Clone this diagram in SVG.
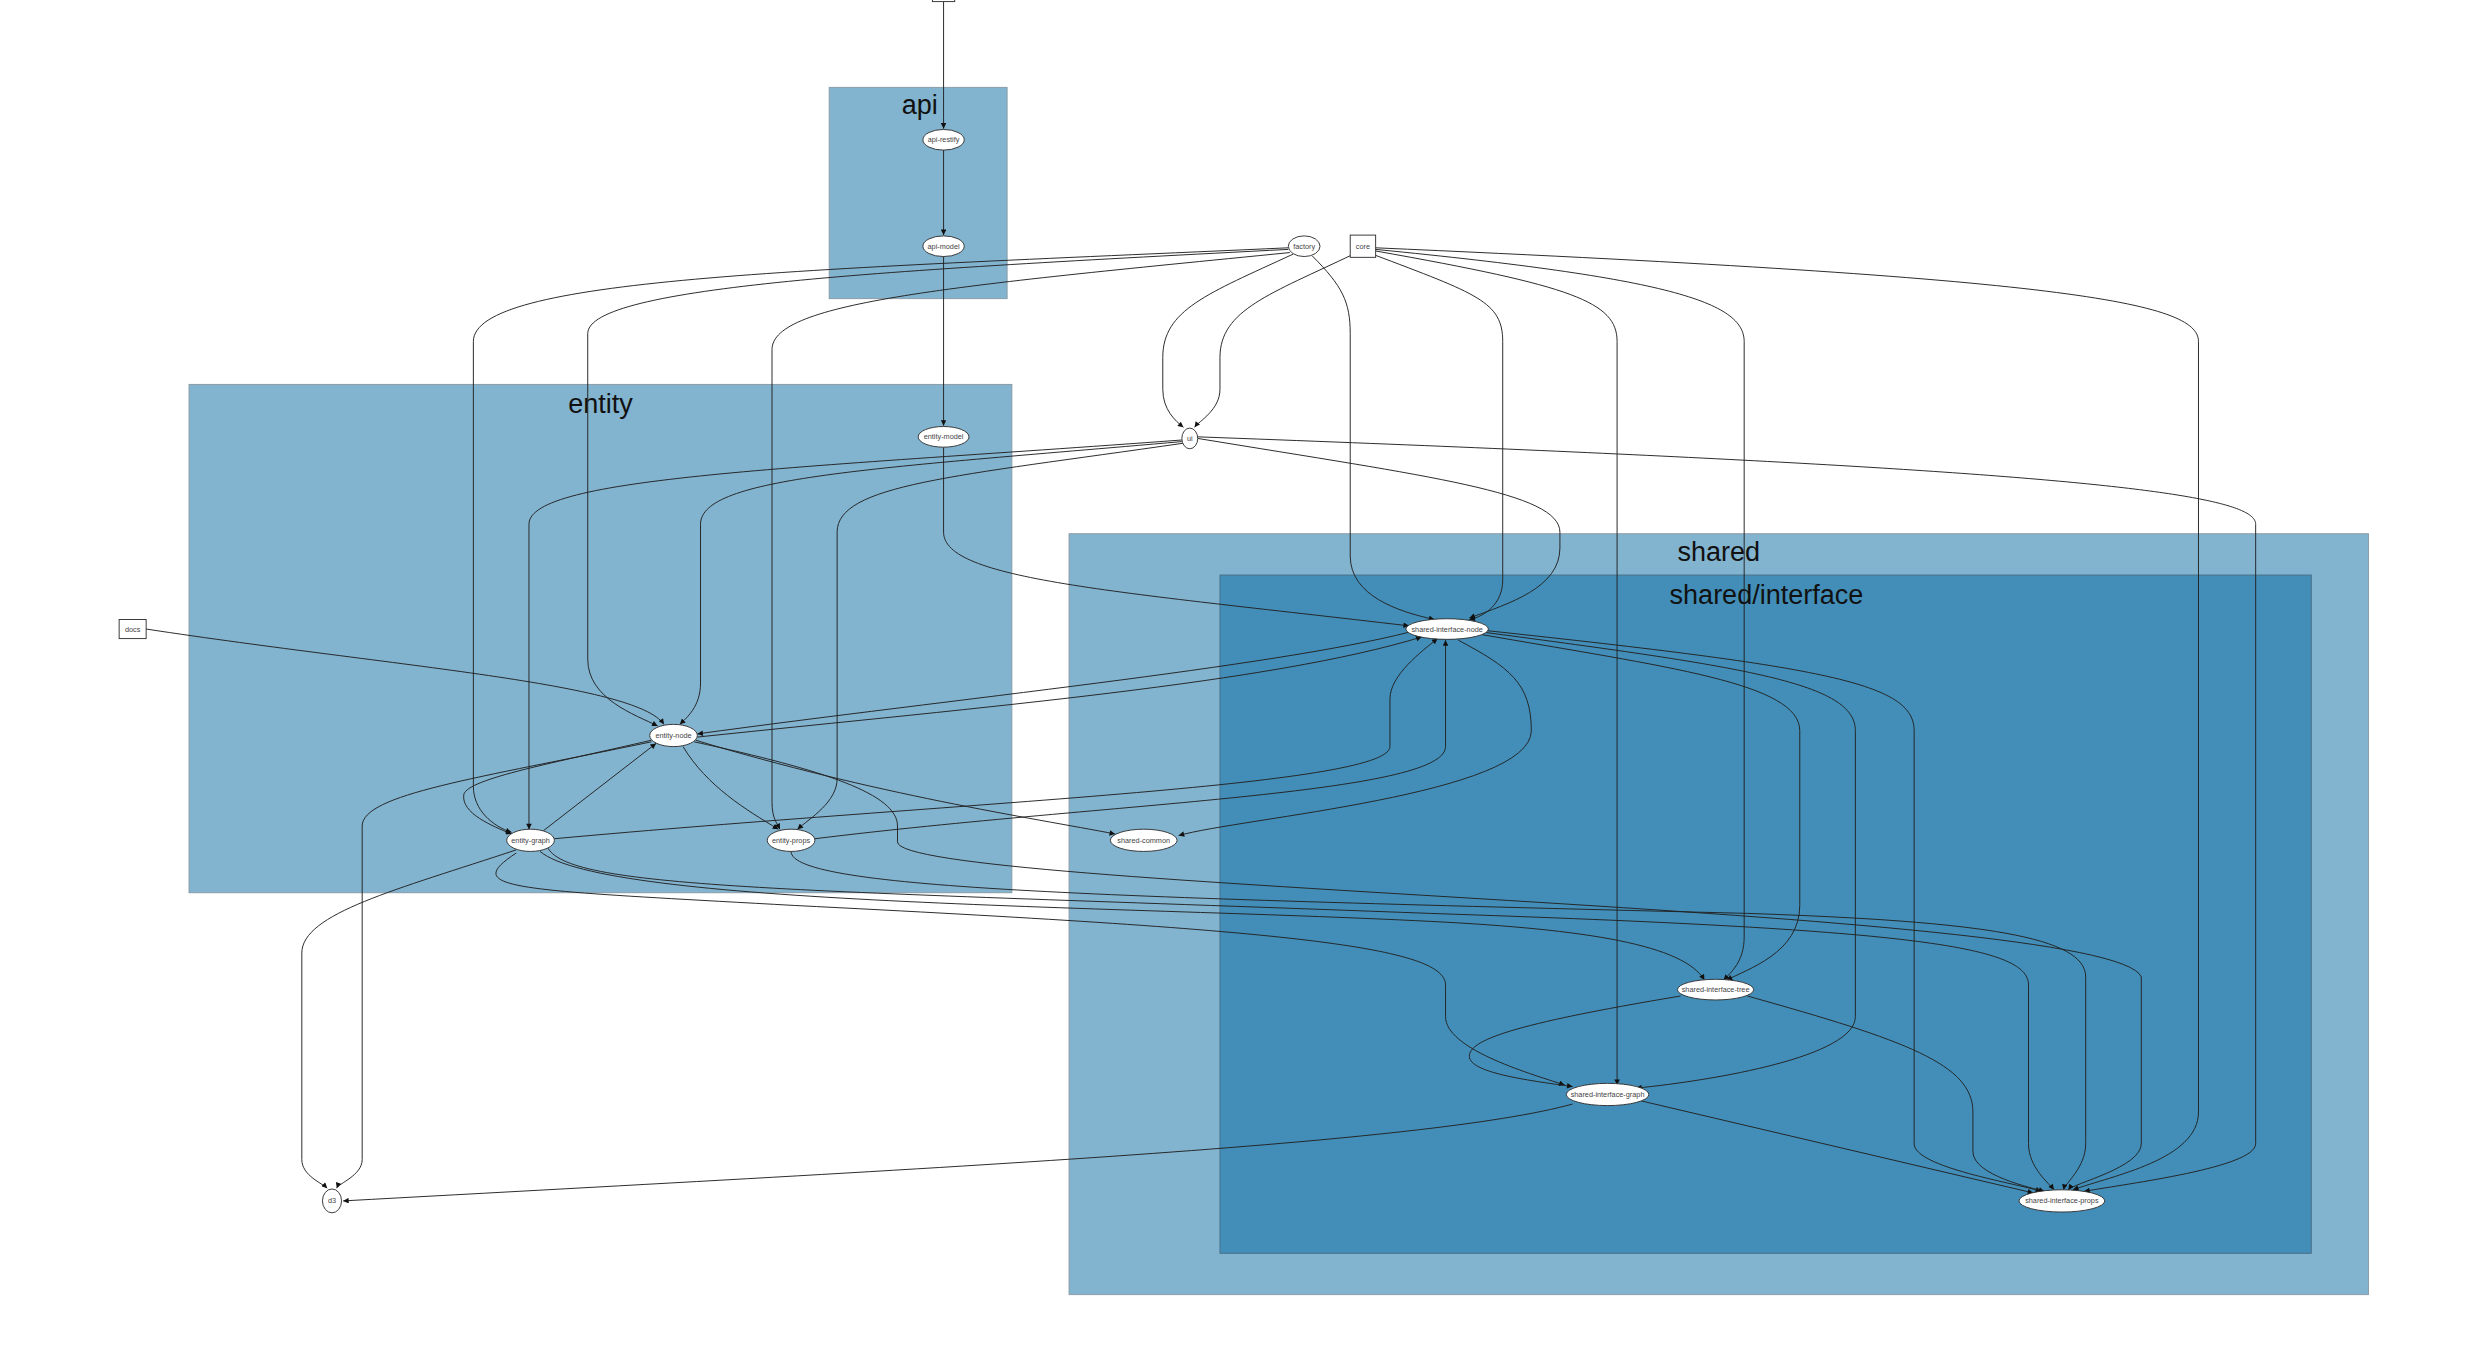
<svg xmlns="http://www.w3.org/2000/svg" width="2478" height="1350" viewBox="0 0 2478 1350">
<style>
.cl{fill:#82b3cf;stroke:#8a9aa5;stroke-width:0.6}
.cl2{fill:#428eb8;stroke:#4a6f86;stroke-width:0.6}
.ct{font-family:"Liberation Sans",Arial,sans-serif;font-size:17px;fill:#111;text-anchor:middle}
.n{fill:#fff;stroke:#333;stroke-width:0.6}
.t{font-family:"Liberation Sans",Arial,sans-serif;font-size:4.6px;fill:#444;text-anchor:middle;dominant-baseline:central}
#edges path{fill:none;stroke:#222;stroke-width:0.6;marker-end:url(#a)}
</style>
<defs><marker id="a" markerUnits="userSpaceOnUse" viewBox="0 0 10 10" refX="10" refY="5" markerWidth="4" markerHeight="3.5" orient="auto"><path d="M0,0L10,5L0,10z" fill="#111"/></marker></defs>
<rect width="2478" height="1350" fill="#fff"/>
<g transform="scale(1.5885)">
<g id="clusters">
<g id="cluster-api"><rect class="cl" x="522" y="55" width="112" height="133"/><text class="ct" x="579" y="72">api</text></g>
<g id="cluster-entity"><rect class="cl" x="119" y="242" width="518" height="320"/><text class="ct" x="378" y="260">entity</text></g>
<g id="cluster-shared"><rect class="cl" x="673" y="336" width="818" height="479"/><text class="ct" x="1082" y="353">shared</text></g>
<g id="cluster-shared-interface"><rect class="cl2" x="768" y="362" width="687" height="427"/><text class="ct" x="1112" y="380">shared/interface</text></g>
</g>
<g id="edges">
<path d="M594,1 L594,81"/>
<path d="M594,94 L594,148"/>
<path d="M594,161 L594,268"/>
<path d="M594,281 L594,335 C594,365 700,372 887,394"/>
<path d="M811,156 C500,170 298,175 298,215 L298,495 C298,510 310,520 322,524"/>
<path d="M811,157 C560,170 370,180 370,210 L370,415 C370,440 400,450 414,457"/>
<path d="M812,159 C600,180 486,190 486,220 L486,505 C486,515 489,518 491,522"/>
<path d="M814,160 C760,185 732,195 732,225 L732,245 C732,258 740,265 745,269"/>
<path d="M852,160 C800,185 768,195 768,225 L768,245 C768,258 755,265 752,269"/>
<path d="M826,161 C845,180 850,190 850,210 L850,350 C850,375 880,385 903,390"/>
<path d="M864,160 C930,185 946,190 946,215 L946,365 C946,380 935,388 925,390"/>
<path d="M866,158 C990,180 1018,190 1018,215 L1018,683"/>
<path d="M866,157 C1050,175 1098,190 1098,215 L1098,590 C1098,605 1090,612 1085,617"/>
<path d="M866,156 C1300,175 1384,190 1384,215 L1384,700 C1384,730 1330,740 1305,749"/>
<path d="M744,277 C500,295 333,300 333,330 L333,522"/>
<path d="M744,278 C550,295 441,300 441,330 L441,430 C441,445 432,452 428,456"/>
<path d="M745,279 C600,300 527,305 527,335 L527,490 C527,505 510,515 502,522"/>
<path d="M754,276 C900,300 982,310 982,335 L982,345 C982,370 950,380 925,389"/>
<path d="M754,275 C1300,295 1420,310 1420,330 L1420,720 C1420,735 1340,745 1312,750"/>
<path d="M92,396 C250,420 400,430 418,456"/>
<path d="M887,398 C800,420 600,440 439,462"/>
<path d="M439,464 C620,445 800,430 895,401"/>
<path d="M342,523 L413,468"/>
<path d="M410,466 C350,480 295,490 292,500 C290,512 310,520 322,525"/>
<path d="M430,470 C445,495 470,510 490,522"/>
<path d="M438,466 C550,500 650,515 702,525"/>
<path d="M410,467 C300,490 228,500 228,520 L228,730 C228,740 213,745 212,748"/>
<path d="M437,467 C520,485 565,500 565,520 L565,530 C565,560 1330,570 1348,615 L1348,720 C1348,735 1305,745 1302,749"/>
<path d="M349,528 C600,505 875,495 875,470 L875,440 C875,425 895,410 905,402"/>
<path d="M513,528 C700,505 910,500 910,470 L910,403"/>
<path d="M918,403 C950,420 964,430 964,460 C964,500 780,515 742,526"/>
<path d="M325,535 C250,560 190,575 190,600 L190,730 C190,740 203,745 206,748"/>
<path d="M345,534 C360,560 500,560 900,575 C1200,585 1277,595 1277,620 L1277,720 C1277,735 1290,745 1293,749"/>
<path d="M340,536 C380,570 700,570 900,580 C1000,585 1060,595 1073,617"/>
<path d="M325,537 C290,560 320,560 500,570 C800,585 910,595 910,620 L910,640 C910,660 960,675 985,683"/>
<path d="M498,536 C498,560 700,565 1100,575 C1250,580 1313,590 1313,615 L1313,720 C1313,735 1300,745 1299,749"/>
<path d="M930,399 C1050,420 1133,430 1133,460 L1133,570 C1133,600 1100,610 1087,617"/>
<path d="M934,398 C1100,420 1168,430 1168,460 L1168,640 C1168,665 1080,680 1030,685"/>
<path d="M936,397 C1150,420 1205,430 1205,460 L1205,720 C1205,735 1270,745 1285,750"/>
<path d="M1058,627 C950,645 925,655 925,665 C925,675 960,680 990,684"/>
<path d="M1100,627 C1200,655 1242,670 1242,700 L1242,725 C1242,740 1280,748 1287,750"/>
<path d="M1033,693 L1280,751"/>
<path d="M990,695 C900,720 600,735 216,756"/>
</g>
<g id="top"><rect class="n" x="587" y="-6" width="14" height="7"/></g>
<g id="api-restify"><ellipse class="n" cx="594" cy="88" rx="13" ry="6.5"/><text class="t" x="594" y="88">api-restify</text></g>
<g id="api-model"><ellipse class="n" cx="594" cy="155" rx="13" ry="6.5"/><text class="t" x="594" y="155">api-model</text></g>
<g id="factory"><ellipse class="n" cx="821" cy="155" rx="10" ry="6.5"/><text class="t" x="821" y="155">factory</text></g>
<g id="core"><rect class="n" x="850" y="148" width="16" height="14"/><text class="t" x="858" y="155">core</text></g>
<g id="entity-model"><ellipse class="n" cx="594" cy="275" rx="16" ry="6.5"/><text class="t" x="594" y="275">entity-model</text></g>
<g id="ui"><ellipse class="n" cx="749" cy="276" rx="5" ry="6.5"/><text class="t" x="749" y="276">ui</text></g>
<g id="docs"><rect class="n" x="75" y="390" width="17" height="12"/><text class="t" x="83.5" y="396">docs</text></g>
<g id="shared-interface-node"><ellipse class="n" cx="911" cy="396" rx="26" ry="6.5"/><text class="t" x="911" y="396">shared-interface-node</text></g>
<g id="entity-node"><ellipse class="n" cx="424" cy="463" rx="15" ry="7"/><text class="t" x="424" y="463">entity-node</text></g>
<g id="entity-graph"><ellipse class="n" cx="334" cy="529" rx="15" ry="7"/><text class="t" x="334" y="529">entity-graph</text></g>
<g id="entity-props"><ellipse class="n" cx="498" cy="529" rx="15" ry="7"/><text class="t" x="498" y="529">entity-props</text></g>
<g id="shared-common"><ellipse class="n" cx="720" cy="529" rx="21" ry="7"/><text class="t" x="720" y="529">shared-common</text></g>
<g id="shared-interface-tree"><ellipse class="n" cx="1080" cy="623" rx="24" ry="6.5"/><text class="t" x="1080" y="623">shared-interface-tree</text></g>
<g id="shared-interface-graph"><ellipse class="n" cx="1012" cy="689" rx="26" ry="7"/><text class="t" x="1012" y="689">shared-interface-graph</text></g>
<g id="shared-interface-props"><ellipse class="n" cx="1298" cy="756" rx="27" ry="7"/><text class="t" x="1298" y="756">shared-interface-props</text></g>
<g id="d3"><ellipse class="n" cx="209" cy="756" rx="6" ry="7.5"/><text class="t" x="209" y="756">d3</text></g>
</g>
</svg>
